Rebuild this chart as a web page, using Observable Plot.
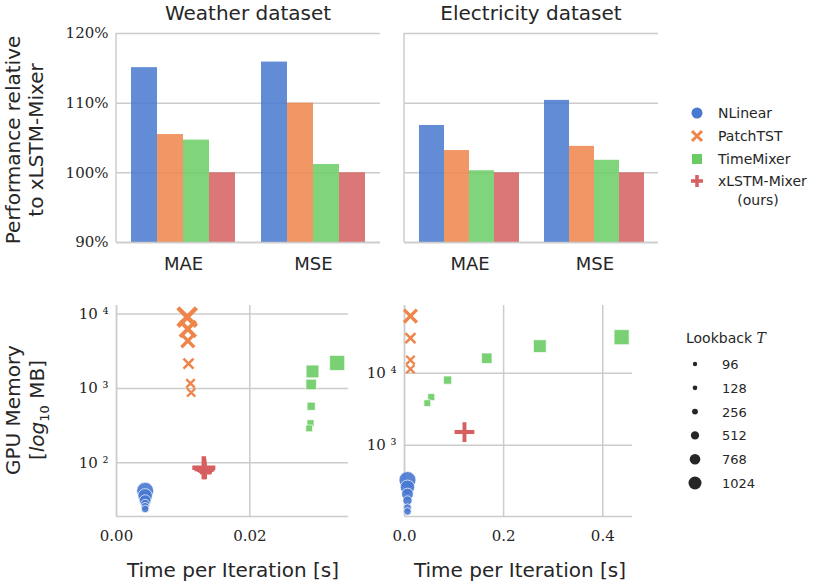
<!DOCTYPE html>
<html><head><meta charset="utf-8">
<script src="https://cdn.jsdelivr.net/npm/d3@7"></script>
<script src="https://cdn.jsdelivr.net/npm/@observablehq/plot@0.6"></script>
<style>
body{margin:0;background:#fff;}
#wrap{position:relative;width:825px;height:584px;font-family:"DejaVu Sans",sans-serif;color:#262626;}
#wrap > svg, #wrap > div.p{position:absolute;}
.p svg{overflow:visible;}
.p svg text{font-family:"DejaVu Serif",serif;font-size:15px;}
.p svg .lbl text, .p svg text.lbl{font-family:"DejaVu Sans",sans-serif;font-size:18px;}
</style></head>
<body><div id="wrap"></div>
<script>
// bar panel values (% relative to xLSTM-Mixer)
const models = ["NLinear", "PatchTST", "TimeMixer", "xLSTM-Mixer"]
const metrics = ["MAE", "MSE"]
const weatherMAE = [115.1, 105.5, 104.7, 100]
const weatherMSE = [115.9, 110.0, 101.2, 100]
const elecMAE = [106.8, 103.2, 100.3, 100]
const elecMSE = [110.4, 103.8, 101.8, 100]
const colors = ["#4878d0", "#ee854a", "#6acc64", "#d65f5f"]

// scatter values: time per iteration [s], GPU memory [MB], lookback T
const lookbacks = [96, 128, 256, 512, 768, 1024]
const wNLinearTime = [0.0043, 0.0043, 0.0043, 0.0043, 0.0043, 0.0043]
const wNLinearMem = [24, 26, 28, 31, 36, 42]
const wPatchTime = [0.0112, 0.0111, 0.0108, 0.0107, 0.0107, 0.0106]
const wPatchMem = [880, 1170, 2150, 4360, 6300, 9100]
const wMixerTime = [0.0289, 0.0291, 0.0292, 0.0292, 0.0294, 0.0331]
const wMixerMem = [290, 340, 575, 1130, 1690, 2200]
const wOursTime = [0.0134, 0.0134, 0.0133, 0.0133, 0.0132, 0.0131]
const wOursMem = [72, 74, 76, 79, 82, 86]

const eNLinearTime = [0.006, 0.006, 0.006, 0.006, 0.006, 0.006]
const eNLinearMem = [120, 135, 170, 209, 260, 327]
const ePatchLookback = [96, 128, 256, 512]
const ePatchTime = [0.012, 0.012, 0.012, 0.012]
const ePatchMem = [11400, 15200, 30700, 62000]
const eMixerTime = [0.046, 0.054, 0.087, 0.166, 0.273, 0.438]
const eMixerMem = [3830, 4650, 8000, 16100, 23700, 31600]
const eOursLookback = [768]
const eOursTime = [0.121]
const eOursMem = [1520]

const wrap = d3.select('#wrap')
const keys = [...models.map(m => "MAE|" + m), "gap", ...models.map(m => "MSE|" + m)]

function barPanel(mae, mse, showY) {
  let data = []
  models.forEach((m, i) => {
    data.push({key: "MAE|" + m, model: m, v: mae[i]})
    data.push({key: "MSE|" + m, model: m, v: mse[i]})
  })
  return Plot.plot({
    width: showY ? 390 : 274, height: 290,
    marginLeft: showY ? 116 : 10, marginRight: 10, marginTop: 33, marginBottom: 48,
    style: {fontFamily: "DejaVu Sans", color: "#262626", background: "transparent"},
    x: {domain: keys, padding: 0, paddingOuter: 0.55, axis: null},
    y: {domain: [90, 120], ticks: [90, 100, 110, 120], tickFormat: d => d + "%", tickSize: 0, tickPadding: 8, label: null, axis: showY ? "left" : null},
    color: {domain: models, range: colors},
    marks: [
      Plot.gridY([90, 100, 110, 120], {stroke: "#ccc", strokeOpacity: 1, strokeWidth: 1.5}),
      Plot.barY(data, {x: "key", y1: 90, y2: "v", fill: "model", fillOpacity: 0.85, inset: 0}),
      Plot.ruleY([90], {stroke: "#ccc", strokeWidth: 1.5}),
      Plot.text(metrics, {x: d => d + "|PatchTST", text: d => d, frameAnchor: "bottom", dx: 13, dy: 27, className: "lbl"})
    ]
  })
}

function scatterPanel(series, xDomain, xTicks, xFmt, yDomain, yTicks, showY) {
  const sym = {NLinear: "circle", PatchTST: "times", TimeMixer: "square", "xLSTM-Mixer": "plus"}
  let marks = [
    Plot.gridY(yTicks, {stroke: "#ccc", strokeOpacity: 1, strokeWidth: 1.5}),
    Plot.gridX(xTicks, {stroke: "#ccc", strokeOpacity: 1, strokeWidth: 1.5}),
    Plot.ruleX([xDomain[0]], {stroke: "#ccc", strokeWidth: 1.5}),
    Plot.ruleY([yDomain[0]], {stroke: "#ccc", strokeWidth: 1.5})
  ]
  series.forEach(s => {
    const d = s.time.map((t, i) => ({t, m: s.mem[i], lb: s.lb[i]}))
    const c = colors[models.indexOf(s.model)]
    const stroked = s.model == "PatchTST" || s.model == "xLSTM-Mixer"
    marks.push(Plot.dot(d.slice().reverse(), {
      x: "t", y: "m", r: s.model == "xLSTM-Mixer" ? (d2 => d2.lb * 0.8) : "lb", symbol: sym[s.model],
      fill: stroked ? "none" : c, stroke: stroked ? c : "white",
      strokeWidth: stroked ? (d2 => 2 + d2.lb / 400) : 0.7, fillOpacity: 0.9
    }))
  })
  return Plot.plot({
    width: showY ? 360 : 254, height: 294,
    marginLeft: showY ? 116 : 10, marginRight: showY ? 12 : 16, marginTop: 15, marginBottom: 68,
    style: {fontFamily: "DejaVu Sans", color: "#262626", background: "transparent"},
    x: {domain: xDomain, ticks: xTicks, tickFormat: xFmt, tickSize: 0, tickPadding: 14, label: null},
    y: {type: "log", domain: yDomain, ticks: yTicks, tickSize: 0, tickPadding: 8, label: null,
        tickFormat: d => "10 " + "⁰¹²³⁴⁵"[Math.round(Math.log10(d))]},
    r: {type: "linear", domain: [96, 1024], range: [3.8, 8.5]},
    marks
  })
}

const mk = (model, time, mem, lb) => ({model, time, mem, lb})

wrap.append('div').attr('class', 'p').style('left', '0px').style('top', '0px')
  .append(() => barPanel(weatherMAE, weatherMSE, true))
wrap.append('div').attr('class', 'p').style('left', '394px').style('top', '0px')
  .append(() => barPanel(elecMAE, elecMSE, false))
wrap.append('div').attr('class', 'p').style('left', '0px').style('top', '290px')
  .append(() => scatterPanel([
    mk("NLinear", wNLinearTime, wNLinearMem, lookbacks),
    mk("PatchTST", wPatchTime, wPatchMem, lookbacks),
    mk("TimeMixer", wMixerTime, wMixerMem, lookbacks),
    mk("xLSTM-Mixer", wOursTime, wOursMem, lookbacks)
  ], [0, 0.0348], [0, 0.02], d => d.toFixed(2), [19, 13000], [100, 1000, 10000], true))
wrap.append('div').attr('class', 'p').style('left', '394px').style('top', '290px')
  .append(() => scatterPanel([
    mk("NLinear", eNLinearTime, eNLinearMem, lookbacks),
    mk("PatchTST", ePatchTime, ePatchMem, ePatchLookback),
    mk("TimeMixer", eMixerTime, eMixerMem, lookbacks),
    mk("xLSTM-Mixer", eOursTime, eOursMem, eOursLookback)
  ], [0, 0.46], [0, 0.2, 0.4], d => d.toFixed(1), [102, 87000], [1000, 10000], false))

// overlay: titles, axis labels, left spines of the bar panels
const ov = wrap.append('svg').attr('width', 825).attr('height', 584).style('left', 0).style('top', 0)
  .style('pointer-events', 'none').attr('font-family', 'DejaVu Sans').attr('fill', '#262626')
ov.selectAll('line.sp').data([116, 404]).join('line')
  .attr('x1', d => d).attr('x2', d => d).attr('y1', 33).attr('y2', 242).attr('stroke', '#ccc').attr('stroke-width', 1.5)
const txt = (x, y, s, size, rot) => ov.append('text').attr('x', x).attr('y', y).attr('font-size', size)
  .attr('text-anchor', 'middle').attr('transform', rot ? `rotate(-90,${x},${y})` : null).text(s)
txt(248, 20, "Weather dataset", 20)
txt(531, 20, "Electricity dataset", 20)
txt(233, 577, "Time per Iteration [s]", 20)
txt(520, 577, "Time per Iteration [s]", 20)
txt(20, 140, "Performance relative", 20, true)
txt(43, 140, "to xLSTM-Mixer", 20, true)
txt(20, 410, "GPU Memory", 20, true)
const g = ov.append('text').attr('x', 44).attr('y', 410).attr('font-size', 20).attr('text-anchor', 'middle')
  .attr('transform', 'rotate(-90,44,410)')
g.append('tspan').text('[')
g.append('tspan').attr('font-style', 'italic').text('log')
g.append('tspan').attr('font-size', 13).attr('dy', 5).text('10')
g.append('tspan').attr('dy', -5).text(' MB]')

// model legend
const legY = [113, 136, 159, 181]
const lg = ov.append('g')
legY.forEach((y, i) => {
  const c = colors[i]
  if (i == 0) lg.append('circle').attr('cx', 697).attr('cy', y).attr('r', 5.5).attr('fill', c)
  if (i == 1) lg.append('path').attr('d', `M${692},${y-5}L${702},${y+5}M${692},${y+5}L${702},${y-5}`).attr('stroke', c).attr('stroke-width', 3)
  if (i == 2) lg.append('rect').attr('x', 692).attr('y', y - 5).attr('width', 10).attr('height', 10).attr('fill', c)
  if (i == 3) lg.append('path').attr('d', `M${691},${y}L${703},${y}M${697},${y-6}L${697},${y+6}`).attr('stroke', c).attr('stroke-width', 3.5)
  lg.append('text').attr('x', 718).attr('y', y + 5).attr('font-size', 14).text(models[i])
})
lg.append('text').attr('x', 758).attr('y', 205).attr('font-size', 14).attr('text-anchor', 'middle').text('(ours)')

// lookback legend
const lb = ov.append('text').attr('x', 686).attr('y', 343).attr('font-size', 14)
lb.append('tspan').text('Lookback ')
lb.append('tspan').attr('font-style', 'italic').attr('font-family', 'DejaVu Serif').text('T')
const rs = d3.scaleLinear([96, 1024], [2.2, 6.5])
lookbacks.forEach((l, i) => {
  const y = 364 + i * 23.8
  ov.append('circle').attr('cx', 695).attr('cy', y).attr('r', rs(l)).attr('fill', '#262626')
  ov.append('text').attr('x', 722).attr('y', y + 5).attr('font-size', 13).text(l)
})
</script></body></html>
